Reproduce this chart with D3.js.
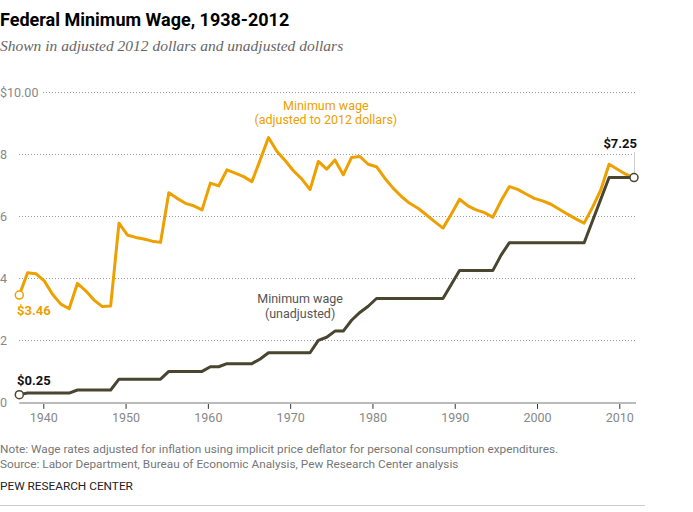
<!DOCTYPE html>
<html lang="en">
<head>
    <meta charset="UTF-8">
    <title>Federal Minimum Wage, 1938-2012</title>
    <script src="https://cdnjs.cloudflare.com/ajax/libs/d3/7.8.5/d3.min.js"></script>
    <style>
        body {
            margin: 0;
            background: #fff;
        }

        svg text {
            font-family: Roboto, "Liberation Sans", sans-serif;
        }

        .title {
            font-size: 18px;
            font-weight: 700;
            fill: #000;
        }

        .subtitle {
            font-family: "Liberation Serif", "DejaVu Serif", serif !important;
            font-style: italic;
            font-size: 15.5px;
            fill: #666;
        }

        .grid line {
            stroke: #999;
            stroke-width: 1;
            stroke-dasharray: 1 2;
        }

        .y-label, .x-label {
            font-size: 12.5px;
            fill: #888;
        }

        .footer {
            font-size: 11.8px;
            fill: #777;
        }
    </style>
</head>
<body>
    <svg width="693" height="512"></svg>

    <script>
        // years and values
        const years = d3.range(1938, 2013);

        const adjusted = [
            3.46, 4.18, 4.15, 3.92, 3.49, 3.17, 3.02, 3.84, 3.60, 3.30,   // 1938-47
            3.09, 3.11, 5.78, 5.40, 5.32, 5.27, 5.20, 5.16, 6.76, 6.58,   // 1948-57
            6.42, 6.34, 6.21, 7.07, 6.98, 7.50, 7.39, 7.28, 7.12, 7.82,   // 1958-67
            8.54, 8.10, 7.80, 7.47, 7.21, 6.86, 7.77, 7.52, 7.82, 7.34,   // 1968-77
            7.90, 7.93, 7.68, 7.60, 7.23, 6.91, 6.64, 6.42, 6.26, 6.05,   // 1978-87
            5.83, 5.62, 6.07, 6.55, 6.34, 6.21, 6.12, 5.97, 6.50, 6.96,   // 1988-97
            6.87, 6.72, 6.58, 6.50, 6.39, 6.23, 6.07, 5.92, 5.78, 6.29,   // 1998-2007
            6.85, 7.68, 7.52, 7.36, 7.25                                  // 2008-12
        ];

        const unadjusted = [
            0.25, 0.30, 0.30, 0.30, 0.30, 0.30, 0.30, 0.40, 0.40, 0.40,   // 1938-47
            0.40, 0.40, 0.75, 0.75, 0.75, 0.75, 0.75, 0.75, 1.00, 1.00,   // 1948-57
            1.00, 1.00, 1.00, 1.15, 1.15, 1.25, 1.25, 1.25, 1.25, 1.40,   // 1958-67
            1.60, 1.60, 1.60, 1.60, 1.60, 1.60, 2.00, 2.10, 2.30, 2.30,   // 1968-77
            2.65, 2.90, 3.10, 3.35, 3.35, 3.35, 3.35, 3.35, 3.35, 3.35,   // 1978-87
            3.35, 3.35, 3.80, 4.25, 4.25, 4.25, 4.25, 4.25, 4.75, 5.15,   // 1988-97
            5.15, 5.15, 5.15, 5.15, 5.15, 5.15, 5.15, 5.15, 5.15, 5.85,   // 1998-2007
            6.55, 7.25, 7.25, 7.25, 7.25                                  // 2008-12
        ];

        const yTicks = [0, 2, 4, 6, 8, 10];
        const yTickLabels = ["0", "2", "4", "6", "8", "$10.00"];
        const xTicks = [1940, 1950, 1960, 1970, 1980, 1990, 2000, 2010];

        const orange = "#eda000";
        const dark = "#4a4530";

        const svg = d3.select("svg");

        const x = d3.scaleLinear().domain([1938, 2012]).range([19.3, 634]);
        // the original's decade ticks sit on a slightly different grid than the data
        const xTick = d3.scaleLinear().domain([1940, 2010]).range([43.3, 619.3]);
        const y = d3.scaleLinear().domain([0, 10]).range([402.4, 92.3]);

        // title block
        svg.append("text").attr("class", "title").attr("x", 0).attr("y", 26)
            .text("Federal Minimum Wage, 1938-2012");
        svg.append("text").attr("class", "subtitle").attr("x", 0).attr("y", 51)
            .text("Shown in adjusted 2012 dollars and unadjusted dollars");

        // gridlines + y labels
        const grid = svg.append("g").attr("class", "grid");
        grid.selectAll("line")
            .data(yTicks.filter(d => d > 0))
            .join("line")
            .attr("x1", d => d === 10 ? 43 : 19)
            .attr("x2", 636)
            .attr("y1", d => Math.round(y(d)) + 0.5)
            .attr("y2", d => Math.round(y(d)) + 0.5);

        svg.append("g")
            .selectAll("text")
            .data(yTicks)
            .join("text")
            .attr("class", "y-label")
            .attr("x", 0)
            .attr("y", d => y(d) + 4.5)
            .text((d, i) => yTickLabels[i]);

        // x axis
        const xAxis = svg.append("g")
            .attr("transform", `translate(0,${y(0) + 0.5})`)
            .call(d3.axisBottom(xTick).tickValues(xTicks).tickFormat(d3.format("d")).tickSize(6).tickSizeOuter(0));
        xAxis.select(".domain").remove();
        xAxis.selectAll(".tick line").attr("stroke", "#333");
        xAxis.selectAll(".tick text")
            .attr("class", "x-label")
            .attr("dy", null)
            .attr("y", 19)
            .style("font-family", "Roboto, sans-serif")
            .style("font-size", "12.5px")
            .attr("fill", "#888");

        svg.append("line")
            .attr("x1", x(1938))
            .attr("x2", 636)
            .attr("y1", y(0) + 0.5)
            .attr("y2", y(0) + 0.5)
            .attr("stroke", "#bbb")
            .attr("stroke-width", 2);

        // lines
        const line = d3.line()
            .x(d => x(d[0]))
            .y(d => y(d[1]));

        const adjData = years.map((yr, i) => [yr, adjusted[i]]);
        const unadjData = years.map((yr, i) => [yr, unadjusted[i]]);

        svg.append("path")
            .datum(adjData)
            .attr("d", line)
            .attr("fill", "none")
            .attr("stroke", orange)
            .attr("stroke-width", 3)
            .attr("stroke-linejoin", "round");

        svg.append("path")
            .datum(unadjData)
            .attr("d", line)
            .attr("fill", "none")
            .attr("stroke", dark)
            .attr("stroke-width", 3)
            .attr("stroke-linejoin", "round");

        // leader to the $7.25 label
        const last = years.length - 1;
        svg.append("line")
            .attr("x1", x(2012) + 0.5).attr("x2", x(2012) + 0.5)
            .attr("y1", 152).attr("y2", y(unadjusted[last]) - 4)
            .attr("stroke", "#ccc")
            .attr("stroke-width", 1);

        // end markers
        const markers = [
            { yr: 1938, v: adjusted[0], c: orange },
            { yr: 1938, v: unadjusted[0], c: dark },
            { yr: 2012, v: unadjusted[last], c: dark }
        ];
        svg.selectAll("circle.end")
            .data(markers)
            .join("circle")
            .attr("class", "end")
            .attr("cx", d => x(d.yr))
            .attr("cy", d => y(d.v))
            .attr("r", 4)
            .attr("fill", "#fff")
            .attr("stroke", d => d.c)
            .attr("stroke-width", 1.5);

        // value labels
        const valueLabels = [
            { text: "$3.46", x: 17, y: y(adjusted[0]) + 20, c: orange, anchor: "start" },
            { text: "$0.25", x: 17, y: y(unadjusted[0]) - 10, c: "#111", anchor: "start" },
            { text: "$7.25", x: 637, y: 148, c: "#111", anchor: "end" }
        ];
        svg.selectAll("text.value")
            .data(valueLabels)
            .join("text")
            .attr("class", "value")
            .attr("x", d => d.x)
            .attr("y", d => d.y)
            .attr("text-anchor", d => d.anchor)
            .attr("fill", d => d.c)
            .style("font-size", "13px")
            .style("font-weight", 700)
            .text(d => d.text);

        // series labels
        const seriesLabels = [
            { lines: ["Minimum wage", "(adjusted to 2012 dollars)"], yr: 1974.9, v: 9.43, c: orange },
            { lines: ["Minimum wage", "(unadjusted)"], yr: 1971.8, v: 3.2, c: "#555" }
        ];
        seriesLabels.forEach(s => {
            const t = svg.append("text")
                .attr("x", x(s.yr))
                .attr("y", y(s.v))
                .attr("text-anchor", "middle")
                .attr("fill", s.c)
                .style("font-size", "12.5px");
            s.lines.forEach((l, i) => {
                t.append("tspan")
                    .attr("x", x(s.yr))
                    .attr("dy", i === 0 ? 0 : 14.5)
                    .text(l);
            });
        });

        // footer
        svg.append("text").attr("class", "footer").attr("x", 0).attr("y", 453)
            .text("Note: Wage rates adjusted for inflation using implicit price deflator for personal consumption expenditures.");
        svg.append("text").attr("class", "footer").attr("x", 0).attr("y", 468)
            .text("Source: Labor Department, Bureau of Economic Analysis, Pew Research Center analysis");
        svg.append("text").attr("class", "footer").attr("x", 0).attr("y", 490)
            .style("fill", "#222")
            .text("PEW RESEARCH CENTER");
        svg.append("line")
            .attr("x1", 0).attr("x2", 645)
            .attr("y1", 505.5).attr("y2", 505.5)
            .attr("stroke", "#ccc")
            .attr("stroke-width", 1);
    </script>
</body>
</html>
